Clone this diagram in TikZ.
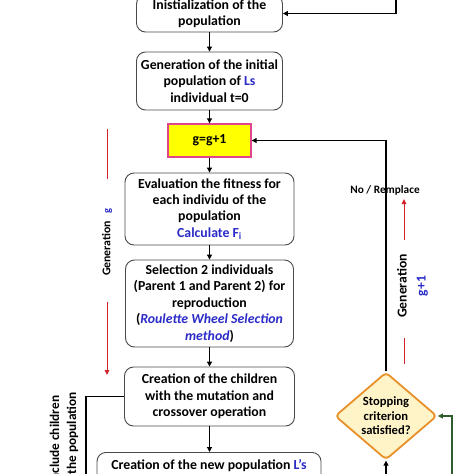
\documentclass[tikz,border=0pt]{standalone}
\usepackage{fontspec}
\setmainfont{Carlito}
\usetikzlibrary{shapes.geometric,arrows.meta}
\definecolor{txtblue}{HTML}{2B2BC8}
\definecolor{redline}{HTML}{D0202A}
\definecolor{gborder}{HTML}{E0458C}
\definecolor{gfill}{HTML}{FFFF00}
\definecolor{dorange}{HTML}{E8902A}
\definecolor{dfill}{HTML}{FFF4C8}
\definecolor{dgreen}{HTML}{2E5E2E}
\definecolor{boxgray}{HTML}{4A4A4A}
\begin{document}
\begin{tikzpicture}[x=1pt,y=-1pt,
  mainfont/.style={font=\fontsize{13.8}{16.4}\selectfont\bfseries},
  box/.style={draw=boxgray, line width=0.9pt, rounded corners=9pt, fill=white,
    align=center, mainfont, inner sep=0pt},
  gstyle/.style={draw=gborder, line width=1.4pt, fill=gfill, mainfont, inner sep=0pt},
  dstyle/.style={diamond, draw=dorange, line width=1.8pt, fill=dfill, rounded corners=4pt,
    align=center, font=\fontsize{12.6}{14.6}\selectfont\bfseries, inner sep=0pt},
  conn/.style={line width=1.1pt, -{Triangle[length=5pt,width=5pt]}},
  redl/.style={draw=redline, line width=1pt},
  reda/.style={redl, -{Triangle[length=5pt,width=4.5pt]}},
  lbl/.style={align=center, inner sep=0pt}]
\clip (0,0) rectangle (474,474);
\fill[white] (0,0) rectangle (474,474);

\node[box, minimum width=146, minimum height=37] (box1) at (209.5,13.5)
  {Inistialization of the\\population};
\node[box, minimum width=146, minimum height=58] (box2) at (209.5,81)
  {Generation of the initial\\population of \textcolor{txtblue}{Ls}\\individual t=0};
\node[gstyle, minimum width=83, minimum height=33] (gbox) at (209.5,140.5) {g=g+1};
\node[box, minimum width=169, minimum height=72] (box3) at (209.5,209)
  {Evaluation the fitness for\\each individu of the\\population\\\textcolor{txtblue}{Calculate F\textsubscript{i}}};
\node[box, minimum width=168, minimum height=87] (box4) at (209.5,303.5)
  {Selection 2 individuals\\(Parent 1 and Parent 2) for\\reproduction\\(\textcolor{txtblue}{\itshape Roulette Wheel Selection}\\\textcolor{txtblue}{\itshape method})};
\node[box, minimum width=170, minimum height=59] (box5) at (209.5,396.5)
  {Creation of the children\\with the mutation and\\crossover operation};
\node[box, minimum width=224, minimum height=60, anchor=north] (box6) at (209,452) {};
\node[lbl, mainfont] (box6t) at (209,466) {Creation of the new population \textcolor{txtblue}{L’s}};

\node[dstyle, minimum width=102, minimum height=82] (dia) at (386,416)
  {Stopping\\criterion\\satisfied?};

\draw[conn] (box1) -- (box2);
\draw[conn] (box2) -- (gbox);
\draw[conn] (gbox) -- (box3);
\draw[conn] (box3) -- (box4);
\draw[conn] (box4) -- (box5);
\draw[conn] (box5.south) -- (box5.south |- box6.north);

\draw[conn] (dia.north) -- (dia.north |- gbox.east) -- (gbox.east);
\coordinate (tr) at (396,-10);
\draw[conn] (tr) |- (box1.east);
\coordinate (bt) at (386,490);
\draw[conn] (bt) -- (dia.south);
\coordinate (gr) at (452,490);
\draw[conn, draw=dgreen] (gr) |- (dia.east);
\coordinate (lf) at (86,490);
\draw[line width=1.1pt] (box5.west) -| (lf);

% left generation marker
\coordinate (l1) at (107,129); \coordinate (l2) at (107,179);
\coordinate (l3) at (107,302); \coordinate (l4) at (107,375);
\draw[redl] (l1) -- (l2);
\draw[reda] (l3) -- (l4);
\node[lbl, rotate=90, font=\fontsize{11.8}{14}\selectfont\bfseries] (genL) at (107,242)
  {Generation\hspace{8pt}\textcolor{txtblue}{\fontsize{10.5}{11}\selectfont g}};

% right generation marker
\node[lbl, font=\fontsize{11.3}{13}\selectfont\bfseries] (norep) at (385,190) {No / Remplace};
\coordinate (r1) at (404,240); \coordinate (r2) at (404,199);
\coordinate (r3) at (404,338); \coordinate (r4) at (404,364);
\draw[reda] (r1) -- (r2);
\draw[redl] (r3) -- (r4);
\node[lbl, rotate=90, font=\fontsize{13.6}{19}\selectfont\bfseries] (genR) at (412.5,286)
  {Generation\\\textcolor{txtblue}{g+1}};

% include children label
\node[lbl, rotate=90, font=\fontsize{13.3}{17}\selectfont\bfseries] (incl) at (64,440)
  {Include children\\in the population};
\end{tikzpicture}
\end{document}
